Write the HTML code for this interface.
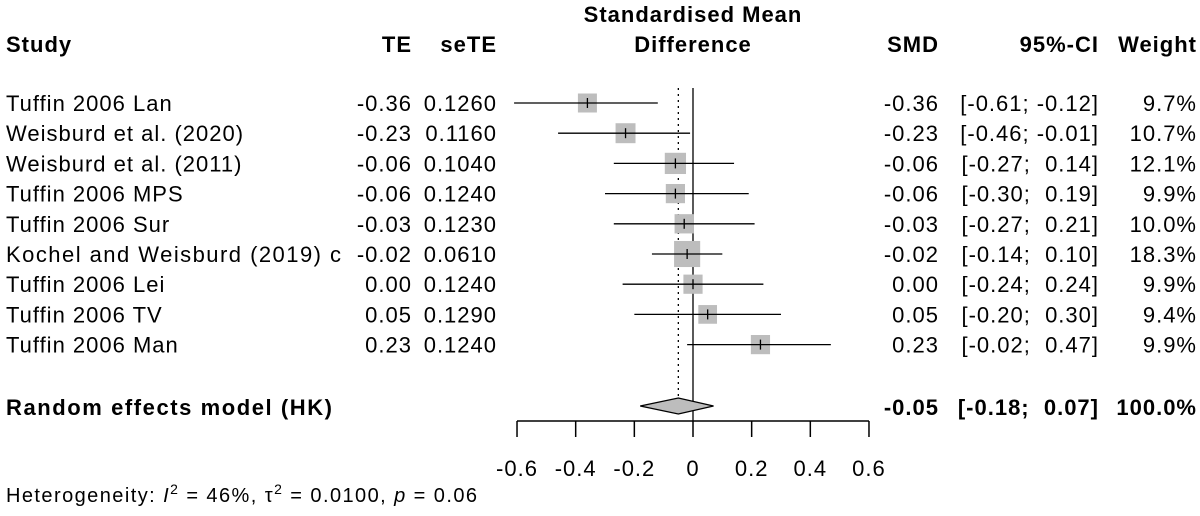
<!DOCTYPE html>
<html><head><meta charset="utf-8"><style>
html,body{margin:0;padding:0;background:#fff;}
svg{display:block;font-family:"Liberation Sans",Arial,sans-serif;}
svg text{white-space:pre;letter-spacing:1px;}
svg text.het{letter-spacing:0;}
</style></head><body>
<svg id="plot" width="1200" height="516" viewBox="0 0 1200 516" xmlns="http://www.w3.org/2000/svg">
<g font-weight="bold" font-size="22" fill="#000">
<text x="6" y="52">Study</text>
<text x="412" y="52" text-anchor="end">TE</text>
<text x="497" y="52" text-anchor="end">seTE</text>
<text x="693" y="22" text-anchor="middle">Standardised Mean</text>
<text x="693" y="52" text-anchor="middle">Difference</text>
<text x="939" y="52" text-anchor="end">SMD</text>
<text x="1099" y="52" text-anchor="end">95%-CI</text>
<text x="1197" y="52" text-anchor="end">Weight</text>
</g>
<g id="rows"></g>
<g id="axis"></g>
<text class="het" x="6" y="502" font-size="20" textLength="471" lengthAdjust="spacing">Heterogeneity: <tspan font-style="italic">I</tspan><tspan dy="-8" font-size="14">2</tspan><tspan dy="8"> = 46%, τ</tspan><tspan dy="-8" font-size="14">2</tspan><tspan dy="8"> = 0.0100, </tspan><tspan font-style="italic">p</tspan> = 0.06</text>
</svg>
<script>
const studies = ["Tuffin 2006 Lan","Weisburd et al. (2020)","Weisburd et al. (2011)","Tuffin 2006 MPS","Tuffin 2006 Sur","Kochel and Weisburd (2019) c","Tuffin 2006 Lei","Tuffin 2006 TV","Tuffin 2006 Man"];
const te = [-0.36,-0.23,-0.06,-0.06,-0.03,-0.02,0.00,0.05,0.23];
const seTE = ["0.1260","0.1160","0.1040","0.1240","0.1230","0.0610","0.1240","0.1290","0.1240"];
const lower = [-0.61,-0.46,-0.27,-0.30,-0.27,-0.14,-0.24,-0.20,-0.02];
const upper = [-0.12,-0.01,0.14,0.19,0.21,0.10,0.24,0.30,0.47];
const weights = [9.7,10.7,12.1,9.9,10.0,18.3,9.9,9.4,9.9];
const pooled = [-0.05,-0.18,0.07];
const ticks = [-0.6,-0.4,-0.2,0,0.2,0.4,0.6];

const NS="http://www.w3.org/2000/svg";
const X = v => 693 + v*293.3;
const rowBase = i => 111 + i*30.2;
function mk(tag, attrs, parent, txt){
  const e=document.createElementNS(NS,tag);
  for(const k in attrs) e.setAttribute(k,attrs[k]);
  if(txt!==undefined) e.textContent=txt;
  parent.appendChild(e); return e;
}
const fmt = v => (v<0?"-":"")+Math.abs(v).toFixed(2);
const fmtCI = v => (v<0?"-":" ")+Math.abs(v).toFixed(2);
const rows=document.getElementById('rows');
const axis=document.getElementById('axis');
const modelBase=415, modelY=406;
let l=mk('line',{x1:X(0),x2:X(0),y1:88,y2:421,stroke:'#000','stroke-width':1.3},rows);


l=mk('line',{x1:X(pooled[0]),x2:X(pooled[0]),y1:88,y2:modelY,stroke:'#000','stroke-width':1.3,'stroke-dasharray':'2,4'},rows);


studies.forEach((s,i)=>{
  const b=rowBase(i), cy=b-8;
  const g=mk('g',{'font-size':22},rows);
  
  
  const la={x:6,y:b};
  if(s.length>25){la.textLength=336;la.lengthAdjust='spacing';}
  let t=mk('text',la,g,s);
  
  
  t=mk('text',{x:412,y:b,'text-anchor':'end'},g,fmt(te[i]));
  
  
  t=mk('text',{x:497,y:b,'text-anchor':'end'},g,seTE[i]);
  
  
  const sz=6.1*Math.sqrt(weights[i]);
  let r=mk('rect',{x:X(te[i])-sz/2,y:cy-sz/2,width:sz,height:sz,fill:'#bdbdbd'},g);
  
  
  let ci=mk('line',{x1:X(lower[i]),x2:X(upper[i]),y1:cy,y2:cy,stroke:'#000','stroke-width':1.3},g);
  
  
  let pt=mk('line',{x1:X(te[i]),x2:X(te[i]),y1:cy-5,y2:cy+5,stroke:'#000','stroke-width':1.3},g);
  
  
  t=mk('text',{x:939,y:b,'text-anchor':'end'},g,fmt(te[i]));
  
  
  t=mk('text',{x:1099,y:b,'text-anchor':'end'},g,'['+fmt(lower[i])+'; '+fmtCI(upper[i])+']');
  
  
  t=mk('text',{x:1197,y:b,'text-anchor':'end'},g,weights[i].toFixed(1)+'%');
  
  
});
const mg=mk('g',{'font-weight':'bold','font-size':22},rows);


let t=mk('text',{x:6,y:modelBase,textLength:327,lengthAdjust:'spacing'},mg,'Random effects model (HK)');


const d=mk('polygon',{points:`${X(pooled[1])},${modelY} ${X(pooled[0])},${modelY-8} ${X(pooled[2])},${modelY} ${X(pooled[0])},${modelY+8}`,fill:'#bdbdbd',stroke:'#000','stroke-width':1.2},mg);


t=mk('text',{x:939,y:modelBase,'text-anchor':'end'},mg,fmt(pooled[0]));


t=mk('text',{x:1099,y:modelBase,'text-anchor':'end'},mg,'['+fmt(pooled[1])+'; '+fmtCI(pooled[2])+']');


t=mk('text',{x:1197,y:modelBase,'text-anchor':'end'},mg,'100.0%');


const al=mk('line',{x1:X(ticks[0]),x2:X(ticks[ticks.length-1]),y1:421,y2:421,stroke:'#000','stroke-width':1.5},axis);


ticks.forEach(v=>{
  const tk=mk('line',{x1:X(v),x2:X(v),y1:421,y2:437,stroke:'#000','stroke-width':1.5},axis);
  
  
  const lb=mk('text',{x:X(v),y:476,'font-size':22,'text-anchor':'middle'},axis,v===0?'0':v.toFixed(1));
  
  
});
</script>
</body></html>
